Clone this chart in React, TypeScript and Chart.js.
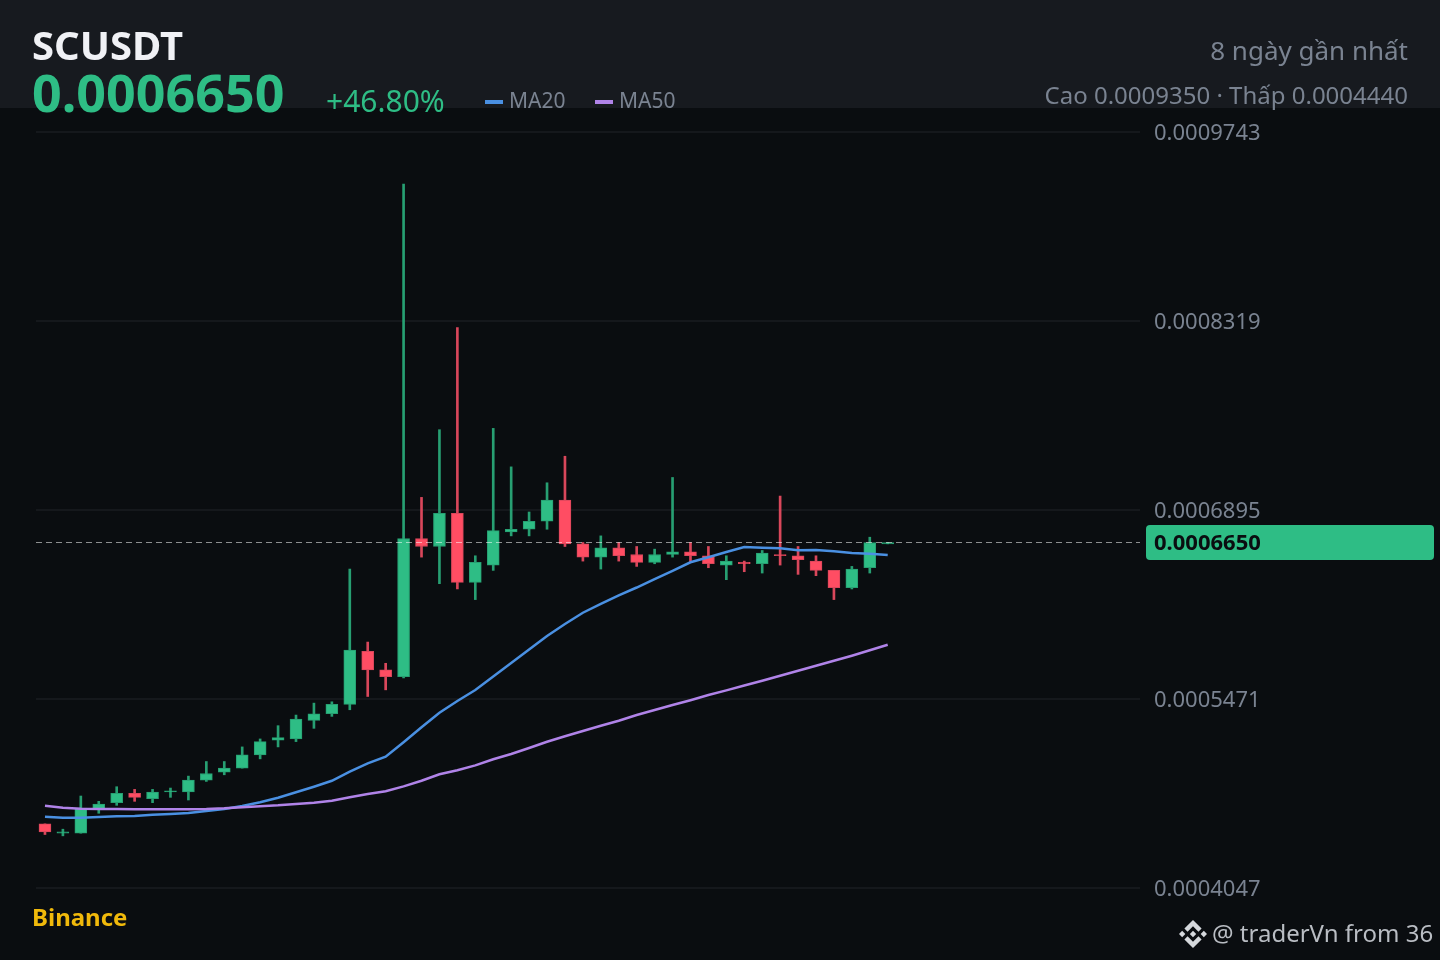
import React, { useEffect, useRef } from "react";
import { Chart, registerables } from "chart.js";

Chart.register(...registerables);

const opens = [0.000453,0.000446,0.000446,0.000464,0.000469,0.000476,0.000472,0.000477,0.000477,0.000486,0.000492,0.000495,0.000505,0.000516,0.000517,0.000531,0.000536,0.000543,0.000583,0.000569,0.000564,0.000668,0.000662,0.000687,0.000635,0.000648,0.000673,0.000675,0.000681,0.000697,0.000664,0.000654,0.000661,0.000656,0.00065,0.000656,0.000658,0.000655,0.000648,0.00065,0.000649,0.000656,0.000655,0.000651,0.000644,0.000631,0.000646,0.000664];
const highs = [0.000453,0.000449,0.000474,0.00047,0.000481,0.000479,0.000479,0.00048,0.000489,0.0005,0.0005,0.000511,0.000517,0.000527,0.000535,0.000544,0.000545,0.000645,0.00059,0.000574,0.000935,0.000699,0.00075,0.000827,0.000655,0.000751,0.000722,0.000688,0.00071,0.00073,0.000665,0.00067,0.000665,0.000662,0.00066,0.000714,0.000665,0.000662,0.000655,0.000651,0.000659,0.0007,0.000662,0.000655,0.000644,0.000647,0.000669,0.000665];
const lows = [0.000445,0.000444,0.000446,0.000461,0.000467,0.00047,0.000469,0.000473,0.000471,0.000485,0.00049,0.000495,0.000502,0.000511,0.000515,0.000525,0.000534,0.000539,0.000549,0.000554,0.000563,0.000654,0.000634,0.00063,0.000622,0.000644,0.00067,0.00067,0.000675,0.000662,0.000651,0.000645,0.000651,0.000647,0.000649,0.000654,0.00065,0.000646,0.000637,0.000643,0.000642,0.000648,0.000641,0.00064,0.000622,0.00063,0.000642,0.000664];
const closes = [0.000447,0.000447,0.000465,0.000468,0.000476,0.000473,0.000477,0.000478,0.000486,0.000491,0.000495,0.000505,0.000515,0.000518,0.000532,0.000536,0.000543,0.000584,0.000569,0.000564,0.000668,0.000662,0.000687,0.000635,0.00065,0.000674,0.000675,0.000681,0.000697,0.000664,0.000654,0.000661,0.000655,0.00065,0.000656,0.000658,0.000655,0.000649,0.000651,0.000649,0.000657,0.000655,0.000652,0.000644,0.000631,0.000645,0.000665,0.000665];
const ma20 = [0.0004584,0.0004577,0.0004577,0.0004582,0.0004587,0.0004589,0.0004599,0.0004605,0.0004612,0.0004627,0.0004642,0.0004665,0.0004693,0.0004727,0.0004768,0.000481,0.0004855,0.0004923,0.0004986,0.0005036,0.0005145,0.0005258,0.0005368,0.0005456,0.0005539,0.000564,0.0005742,0.0005844,0.0005946,0.0006036,0.0006121,0.0006187,0.0006251,0.0006311,0.0006375,0.0006437,0.0006501,0.0006539,0.0006578,0.0006616,0.0006611,0.0006606,0.0006591,0.0006594,0.0006584,0.0006571,0.0006566,0.0006556];
const ma50 = [0.0004667,0.0004652,0.0004644,0.0004642,0.0004642,0.000464,0.000464,0.000464,0.000464,0.0004642,0.0004647,0.0004655,0.0004663,0.000467,0.000468,0.000469,0.0004705,0.000473,0.0004755,0.0004776,0.0004813,0.0004855,0.0004904,0.0004934,0.0004971,0.0005017,0.0005057,0.0005102,0.0005149,0.000519,0.000523,0.000527,0.0005307,0.000535,0.0005388,0.0005426,0.0005462,0.0005501,0.0005536,0.0005573,0.0005609,0.0005646,0.0005684,0.0005722,0.0005759,0.0005797,0.0005838,0.000588];
const yTicks = [0.0004047, 0.0005471, 0.0006895, 0.0008319, 0.0009743];
const lastPrice = 0.000665;

const GREEN = "#2ebd85";
const RED = "#ff4d63";
const GREEN_EDGE = "#279f72";
const RED_EDGE = "#d9475b";
const MUTED = "#7a8391";
const FONT = '"Noto Sans", sans-serif';
const X_MIN = -0.5;
const X_MAX = 61.07;

const text = (
  left: number | null,
  right: number | null,
  centerY: number,
  size: number,
  color: string,
  weight = 400
): React.CSSProperties => ({
  position: "absolute",
  left: left ?? undefined,
  right: right ?? undefined,
  top: centerY - size,
  height: size * 2,
  lineHeight: `${size * 2}px`,
  fontFamily: FONT,
  fontSize: size,
  color,
  fontWeight: weight,
  whiteSpace: "nowrap",
});

export default function App() {
  const ref = useRef<HTMLCanvasElement>(null);

  useEffect(() => {
    const isUp = (i: number) => closes[i] >= opens[i];
    const fill = (c: any) => (isUp(c.dataIndex) ? GREEN : RED);
    const edge = (c: any) => (isUp(c.dataIndex) ? GREEN_EDGE : RED_EDGE);
    const chart = new Chart(ref.current!, {
      type: "bar",
      data: {
        datasets: [
          {
            type: "line",
            label: "Last",
            data: [
              { x: X_MIN, y: lastPrice },
              { x: X_MAX, y: lastPrice },
            ],
            borderColor: "rgba(255,255,255,0.55)",
            borderWidth: 1,
            borderDash: [6, 4],
            pointRadius: 0,
            order: 0,
          },
          {
            type: "line",
            label: "MA50",
            data: ma50.map((y, x) => ({ x, y })),
            borderColor: "#b083e8",
            borderWidth: 2.5,
            pointRadius: 0,
            tension: 0,
            order: 1,
          },
          {
            type: "line",
            label: "MA20",
            data: ma20.map((y, x) => ({ x, y })),
            borderColor: "#4a90e2",
            borderWidth: 2.5,
            pointRadius: 0,
            tension: 0,
            order: 2,
          },
          {
            label: "Body",
            data: opens.map((o, x) => ({ x, y: [o, closes[x]] })),
            backgroundColor: fill,
            borderColor: edge,
            borderWidth: 1,
            borderSkipped: false,
            barThickness: 12,
            grouped: false,
            order: 3,
          },
          {
            label: "Wick",
            data: lows.map((l, x) => ({ x, y: [l, highs[x]] })),
            backgroundColor: edge,
            borderWidth: 0,
            borderSkipped: false,
            barThickness: 2,
            grouped: false,
            order: 4,
          },
        ] as any,
      },
      options: {
        animation: false,
        responsive: false,
        maintainAspectRatio: false,
        layout: { padding: { left: 36, top: 132, right: 0, bottom: 72 } },
        plugins: { legend: { display: false }, tooltip: { enabled: false } },
        scales: {
          x: { type: "linear", min: X_MIN, max: X_MAX, display: false, offset: false, grid: { offset: false } },
          y: {
            type: "linear",
            position: "right",
            min: yTicks[0],
            max: yTicks[yTicks.length - 1],
            border: { display: false },
            grid: { color: "#15181c", lineWidth: 2, drawTicks: false },
            ticks: {
              padding: 14,
              autoSkip: false,
              labelOffset: 2,
              color: MUTED,
              font: { family: "Noto Sans", size: 22 },
              callback: (v: any) => Number(v).toFixed(7),
            },
            afterBuildTicks: (s: any) => {
              s.ticks = yTicks.map((value) => ({ value }));
            },
            afterFit: (s: any) => {
              s.width = 300;
              s.paddingTop = 0;
              s.paddingBottom = 0;
            },
          },
        },
      } as any,
    });
    return () => chart.destroy();
  }, []);

  return (
    <div
      style={{
        position: "fixed",
        left: 0,
        top: 0,
        width: 1440,
        height: 960,
        background: "#0a0d10",
        overflow: "hidden",
      }}
    >
      <div style={{ position: "absolute", left: 0, top: 0, width: 1440, height: 108, background: "#171a1f" }} />
      <canvas ref={ref} width={1440} height={960} style={{ position: "absolute", left: 0, top: 0, width: 1440, height: 960 }} />

      <div style={text(32, null, 45, 40, "#f0f1f5", 700)}>SCUSDT</div>
      <div style={text(32, null, 92, 52, GREEN, 700)}>0.0006650</div>
      <div style={text(326, null, 101, 30, GREEN)}>+46.80%</div>
      <div style={{ position: "absolute", left: 485, top: 100, width: 18, height: 4, background: "#4a90e2" }} />
      <div style={text(509, null, 100, 21, MUTED)}>MA20</div>
      <div style={{ position: "absolute", left: 595, top: 100, width: 18, height: 4, background: "#b083e8" }} />
      <div style={text(619, null, 100, 21, MUTED)}>MA50</div>

      <div style={text(null, 32, 50, 26, MUTED)}>8 ngày gần nhất</div>
      <div style={text(null, 32, 95, 24, MUTED)}>Cao 0.0009350 · Thấp 0.0004440</div>

      <div style={{ position: "absolute", left: 1146, top: 525, width: 288, height: 35, borderRadius: 4, background: GREEN }} />
      <div style={text(1154, null, 541, 22, "#0a0d10", 700)}>0.0006650</div>

      <div style={text(32, null, 917, 24, "#f0b90b", 700)}>Binance</div>

      <svg viewBox="0 0 126.61 126.61" width={28} height={28} style={{ position: "absolute", left: 1179, top: 920 }}>
        <g fill="#d5d8dc">
          <path d="M38.73 53.2l24.59-24.58 24.6 24.6 14.3-14.31L63.32 0 24.43 38.9z" />
          <path d="M0 63.31l14.3-14.31 14.31 14.31-14.31 14.3z" />
          <path d="M38.73 73.41l24.59 24.59 24.6-24.6 14.31 14.29-38.9 38.91-38.91-38.88v-.03z" />
          <path d="M98.01 63.31l14.3-14.31 14.3 14.31-14.3 14.3z" />
          <path d="M77.83 63.3L63.32 48.78 52.59 59.51l-1.24 1.23-2.54 2.54 14.51 14.5 14.51-14.47z" />
        </g>
      </svg>
      <div style={text(1212, null, 933, 24, "#b9bdc3")}>@ traderVn from 36</div>
    </div>
  );
}
